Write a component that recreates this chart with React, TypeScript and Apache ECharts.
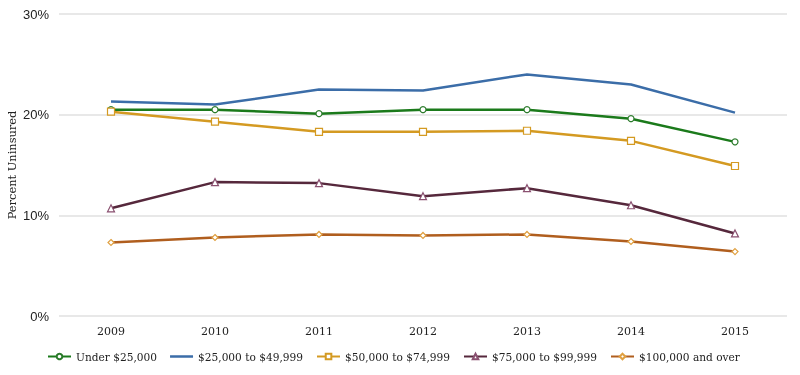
import React, { useEffect, useRef } from "react";
import * as echarts from "echarts";

const years = ["2009", "2010", "2011", "2012", "2013", "2014", "2015"];
const under25 = [20.5, 20.5, 20.1, 20.5, 20.5, 19.6, 17.3];
const from25to49 = [21.3, 21.0, 22.5, 22.4, 24.0, 23.0, 20.2];
const from50to74 = [20.3, 19.3, 18.3, 18.3, 18.4, 17.4, 14.9];
const from75to99 = [10.7, 13.3, 13.2, 11.9, 12.7, 11.0, 8.2];
const over100 = [7.3, 7.8, 8.1, 8.0, 8.1, 7.4, 6.4];
const yTicks = [0, 10, 20, 30];
const yTitle = "Percent Uninsured";
const names = [
  "Under $25,000",
  "$25,000 to $49,999",
  "$50,000 to $74,999",
  "$75,000 to $99,999",
  "$100,000 and over",
];

const serif = "'DejaVu Serif', serif";
const BLUE = "#3b6da8";

export default function App() {
  const ref = useRef<HTMLDivElement>(null);
  useEffect(() => {
    const chart = echarts.init(ref.current!, null, { renderer: "svg" });
    const mk = (
      name: string,
      data: number[],
      color: string,
      symbol: string,
      markerColor: string,
      size: number
    ) => ({
      name,
      type: "line",
      data,
      symbol,
      symbolSize: size,
      showSymbol: symbol !== "none",
      lineStyle: { color, width: 2.5 },
      itemStyle: { color: "#ffffff", borderColor: markerColor, borderWidth: 1.2 },
      color,
    });
    chart.setOption({
      animation: false,
      grid: {
        left: 59,
        right: 13,
        top: 14,
        bottom: 59,
        containLabel: false,
        outerBoundsMode: "none",
      },
      graphic: [
        {
          type: "text",
          x: 12,
          y: 165,
          rotation: Math.PI / 2,
          style: {
            text: yTitle,
            fill: "#222",
            font: "11.4px 'DejaVu Serif', serif",
            align: "center",
            verticalAlign: "middle",
          },
        },
      ],
      legend: {
        bottom: 8,
        left: 42,
        itemWidth: 23,
        itemHeight: 7,
        itemGap: 13,
        textStyle: { fontFamily: serif, fontSize: 10.6, color: "#222" },
        data: names.map((n, i) =>
          i === 1
            ? {
                name: n,
                icon: "path://M0,0H23V2.5H0Z",
                itemStyle: { color: BLUE, borderWidth: 0 },
              }
            : { name: n }
        ),
      },
      xAxis: {
        type: "category",
        data: years,
        boundaryGap: true,
        axisLine: { show: false },
        axisTick: { show: false },
        axisLabel: { fontFamily: serif, fontSize: 11, color: "#222", margin: 10 },
      },
      yAxis: {
        type: "value",
        min: yTicks[0],
        max: yTicks[yTicks.length - 1],
        interval: 10,
        axisLabel: {
          formatter: "{value}%",
          fontFamily: "'Liberation Sans', Arial, sans-serif",
          fontSize: 13,
          color: "#222",
          margin: 10,
        },
        splitLine: { lineStyle: { color: "#e0e0e0", width: 1.5 } },
      },
      series: [
        mk(names[0], under25, "#1b7a1b", "circle", "#2a7a2a", 6),
        mk(names[1], from25to49, BLUE, "none", BLUE, 6),
        mk(names[2], from50to74, "#d49a22", "rect", "#d49a22", 7),
        mk(names[3], from75to99, "#56283c", "triangle", "#8a5070", 7),
        mk(names[4], over100, "#b05e1e", "diamond", "#e0a040", 6),
      ],
    });
    return () => chart.dispose();
  }, []);
  return (
    <div
      ref={ref}
      style={{ position: "fixed", left: 0, top: 0, width: 800, height: 375 }}
    />
  );
}
